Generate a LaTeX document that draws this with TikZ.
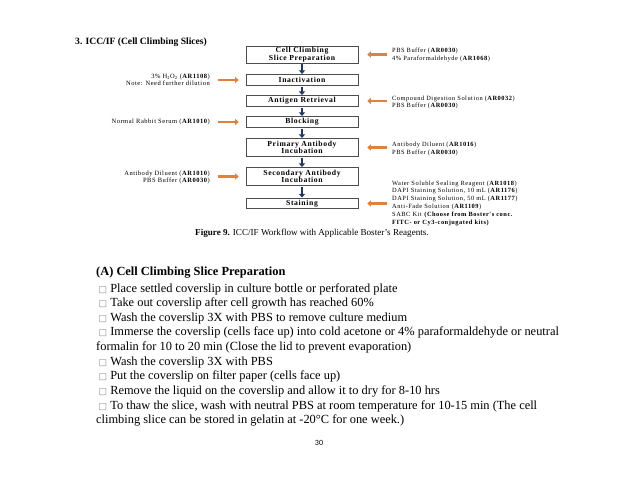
\documentclass[tikz,border=0pt]{standalone}
\usepackage{fontspec}
\setmainfont{Liberation Serif}
\newfontfamily\symfont{DejaVu Sans}
\newfontfamily\pgfont{Carlito}
\newfontfamily\dgfont[LetterSpace=8]{Liberation Serif}
\usetikzlibrary{arrows.meta}
\definecolor{navy}{HTML}{1F3864}
\definecolor{orng}{HTML}{E3803A}
\newcommand{\bxg}{{\fontsize{9}{9}\symfont\color{black!45}□}}
\tikzset{
  box/.style={draw=black!70, line width=0.6pt, minimum width=112pt, inner sep=0pt,
    font=\dgfont\bfseries\fontsize{7.7}{7.4}\selectfont, align=center},
  stxt/.style={inner sep=0pt, font=\dgfont\fontsize{6.4}{7.8}\selectfont, align=left},
  ltxt/.style={inner sep=0pt, font=\dgfont\fontsize{6.5}{7.2}\selectfont, align=right},
  darr/.style={draw=navy, line width=1.8pt, -{Triangle[length=3.5pt,width=6pt]}, shorten <=1pt, shorten >=0.5pt},
  oarr/.style={draw=orng, line width=2.2pt, -{Triangle[length=3.5pt,width=6pt]}},
  body/.style={inner sep=0pt, anchor=base west, font=\fontsize{12.4}{14}\selectfont},
}
\begin{document}
\begin{tikzpicture}[x=1pt,y=-1pt]
\fill[white] (0,0) rectangle (638,478);
\useasboundingbox (0,0) rectangle (638,478);

\node[inner sep=0pt, anchor=base west, font=\bfseries\fontsize{9.6}{11}\selectfont] (title) at (75,45) {3. ICC/IF (Cell Climbing Slices)};

% boxes
\node[box, minimum height=17pt] (b1) at (302,54.5) {Cell Climbing\\Slice Preparation};
\node[box, minimum height=10.5pt] (b2) at (302,80) {Inactivation};
\node[box, minimum height=10.5pt] (b3) at (302,101) {Antigen Retrieval};
\node[box, minimum height=10.5pt] (b4) at (302,122) {Blocking};
\node[box, minimum height=17.5pt] (b5) at (302,147.5) {Primary Antibody\\Incubation};
\node[box, minimum height=17.5pt] (b6) at (302,176.5) {Secondary Antibody\\Incubation};
\node[box, minimum height=10.5pt] (b7) at (302,203.5) {Staining};

\draw[darr] (b1) -- (b2);
\draw[darr] (b2) -- (b3);
\draw[darr] (b3) -- (b4);
\draw[darr] (b4) -- (b5);
\draw[darr] (b5) -- (b6);
\draw[darr] (b6) -- (b7);

% right texts
\node[stxt, anchor=west] (r1) at (392,55) {PBS Buffer (\textbf{AR0030})\\4\% Paraformaldehyde (\textbf{AR1068})};
\node[stxt, anchor=west] (r2) at (392,102.5) {Compound Digestion Solution (\textbf{AR0032})\\PBS Buffer (\textbf{AR0030})};
\node[stxt, anchor=west] (r3) at (392,149) {Antibody Diluent (\textbf{AR1016})\\PBS Buffer (\textbf{AR0030})};
\node[stxt, anchor=west] (r4) at (392,203) {Water Soluble Sealing Reagent (\textbf{AR1018})\\DAPI Staining Solution, 10 mL (\textbf{AR1176})\\DAPI Staining Solution, 50 mL (\textbf{AR1177})\\Anti-Fade Solution (\textbf{AR1109})\\SABC Kit \textbf{(Choose from Boster's conc.}\\\textbf{FITC- or Cy3-conjugated kits)}};

% left texts
\node[ltxt, anchor=east] (l1) at (210,80) {3\% H\textsubscript{2}O\textsubscript{2} (\textbf{AR1108})\\Note: Need further dilution};
\node[ltxt, anchor=east] (l2) at (210,122) {Normal Rabbit Serum (\textbf{AR1010})};
\node[ltxt, anchor=east] (l3) at (210,177.5) {Antibody Diluent (\textbf{AR1010})\\PBS Buffer (\textbf{AR0030})};

% orange arrows
\draw[oarr] ([xshift=-5pt]b1.east -| r1.west) -- ([xshift=9pt]b1.east);
\draw[oarr] ([xshift=-5pt]b3.east -| r2.west) -- ([xshift=9pt]b3.east);
\draw[oarr] ([xshift=-5pt]b5.east -| r3.west) -- ([xshift=9pt]b5.east);
\draw[oarr] ([xshift=-5pt]b7.east -| r4.west) -- ([xshift=9pt]b7.east);
\draw[oarr] ([xshift=8pt]b2.west -| l1.east) -- ([xshift=-7pt]b2.west);
\draw[oarr] ([xshift=8pt]b4.west -| l2.east) -- ([xshift=-7pt]b4.west);
\draw[oarr] ([xshift=8pt]b6.west -| l3.east) -- ([xshift=-7pt]b6.west);

% caption
\node[inner sep=0pt, anchor=base west, font=\fontsize{9.1}{10}\selectfont] (cap) at (195,236) {\textbf{Figure 9.} ICC/IF Workflow with Applicable Boster's Reagents.};

% body
\node[body, font=\bfseries\fontsize{12.4}{14}\selectfont] (p1) at (96,275.7) {(A) Cell Climbing Slice Preparation};
\node[body] (p2) at (98.5,292.3) {\bxg\ Place settled coverslip in culture bottle or perforated plate};
\node[body] (p3) at (98.5,306.9) {\bxg\ Take out coverslip after cell growth has reached 60\%};
\node[body] (p4) at (98.5,321.3) {\bxg\ Wash the coverslip 3X with PBS to remove culture medium};
\node[body] (p5) at (98.5,336) {\bxg\ Immerse the coverslip (cells face up) into cold acetone or 4\% paraformaldehyde or neutral};
\node[body] (p6) at (96,350.7) {formalin for 10 to 20 min (Close the lid to prevent evaporation)};
\node[body] (p7) at (98.5,365.3) {\bxg\ Wash the coverslip 3X with PBS};
\node[body] (p8) at (98.5,379.9) {\bxg\ Put the coverslip on filter paper (cells face up)};
\node[body] (p9) at (98.5,394.5) {\bxg\ Remove the liquid on the coverslip and allow it to dry for 8-10 hrs};
\node[body] (p10) at (98.5,409.1) {\bxg\ To thaw the slice, wash with neutral PBS at room temperature for 10-15 min (The cell};
\node[body] (p11) at (96,423.7) {climbing slice can be stored in gelatin at -20°C for one week.)};

\node[inner sep=0pt, font=\pgfont\fontsize{8}{9}\selectfont] (pg) at (319,443) {30};
\end{tikzpicture}
\end{document}
